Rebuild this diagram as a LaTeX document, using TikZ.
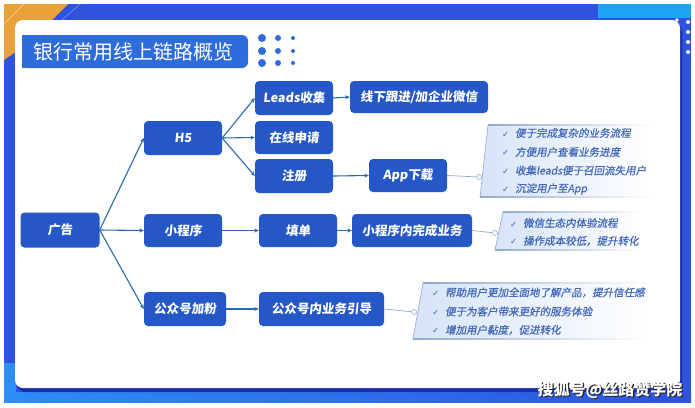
\documentclass[tikz,border=0pt]{standalone}
\usepackage{fontspec}
\setmainfont{Noto Sans CJK SC}
\newfontfamily\nodefont{Noto Sans CJK SC}[FakeSlant=0.1]
\newfontfamily\calfont{Noto Sans CJK SC}[FakeSlant=0.18, FakeBold=0.6]
\newfontfamily\symfont{DejaVu Sans}
\usetikzlibrary{arrows.meta}
\definecolor{boxblue}{HTML}{2557C7}
\definecolor{titleblue}{HTML}{2E6CDC}
\definecolor{linec}{HTML}{2A6AAE}
\definecolor{frameblue}{HTML}{2F52DF}
\definecolor{framelight}{HTML}{2E8DF6}
\definecolor{cyanc}{HTML}{1DA4F2}
\definecolor{orangec}{HTML}{E9A23B}
\definecolor{caltext}{HTML}{4267B9}
\definecolor{calfill}{HTML}{D6E4F7}
\definecolor{calborder}{HTML}{93A9CC}
\begin{document}
\begin{tikzpicture}[x=1pt,y=-1pt,
  box/.style={fill=boxblue, rounded corners=4pt, text=white,
    font=\nodefont\bfseries\fontsize{12.5}{14}\selectfont,
    minimum height=33pt, inner sep=0pt},
  conn/.style={draw=linec, line width=1.1pt, -{Stealth[length=4.5pt,width=4pt]}},
  tip/.style={circle, draw=calborder, fill=white, line width=0.6pt, minimum size=5pt, inner sep=0pt},
  tipline/.style={draw=calborder, line width=0.7pt},
  calline/.style={anchor=west, text=caltext, inner sep=0pt,
    font=\calfont\fontsize{10.5}{12}\selectfont},
  dot/.style={fill=titleblue}
]
\useasboundingbox (0,0) rectangle (695,407);
% frame
\fill[white] (0,0) rectangle (695,407);
\fill[frameblue] (4,4) rectangle (691,402);
\fill[cyanc] (598,4) rectangle (691,18);
\shade[left color=framelight, right color=frameblue] (4,392) rectangle (691,402);
\fill[framelight] (4,363) rectangle (16,394);
\fill[orangec] (4,4) -- (68,4) -- (30,42) -- (4,60) -- cycle;
\draw[white, opacity=0.5, line width=0.4pt] (4,24) -- (24,4);
\draw[white, opacity=0.5, line width=0.4pt] (80,4) -- (62,20);
% card
\fill[black!60!blue, opacity=0.45, rounded corners=8pt] (17,24) rectangle (682,392);
\fill[white, rounded corners=8pt] (15,20) rectangle (680,388);
% right edge dots
\foreach \yy in {22,32,42,52} \fill[white] (688,\yy) circle (2pt);
\fill[white] (677,20) circle (1.8pt);
% title
\fill[titleblue, rounded corners=6pt] (22,35) -- (248,35) -- (248,68) -- (22,68) [sharp corners] -- (22,35) -- cycle;
\fill[titleblue] (22,35) rectangle (30,68);
\node[text=white, font=\fontsize{20}{22}\selectfont, inner sep=0pt] (title) at (133,51.5) {银行常用线上链路概览};
% dots
\foreach \yy in {38,51,63} {
  \fill[dot] (262,\yy) circle (4pt);
  \fill[dot] (278,\yy) circle (3pt);
  \fill[dot] (293,\yy) circle (2pt);
}
% nodes
\node[box, minimum width=79pt, minimum height=35pt] (ad) at (60,230) {广告};
\node[box, minimum width=78pt, minimum height=34pt] (h5) at (183,138) {H5};
\node[box, minimum width=78pt] (mini) at (183,230.5) {小程序};
\node[box, minimum width=82pt, minimum height=34pt] (gzh) at (185,309) {公众号加粉};
\node[box, minimum width=78pt, minimum height=34pt] (leads) at (294,98) {Leads收集};
\node[box, minimum width=78pt] (online) at (294,137.5) {在线申请};
\node[box, minimum width=78pt, minimum height=34pt] (reg) at (294,176) {注册};
\node[box, minimum width=78pt] (fill) at (298,230.5) {填单};
\node[box, minimum width=125pt, minimum height=34pt] (gzhin) at (321.5,309) {公众号内业务引导};
\node[box, minimum width=138pt, minimum height=32pt] (offline) at (419,97) {线下跟进/加企业微信};
\node[box, minimum width=78pt] (app) at (408,175.5) {App下载};
\node[box, minimum width=120pt] (miniin) at (412,230.5) {小程序内完成业务};
% connectors
\draw[conn] (ad.east) -- (h5.west);
\draw[conn] (ad.east) -- (mini.west);
\draw[conn] (ad.east) -- (gzh.west);
\draw[conn] (h5.east) -- (leads.west);
\draw[conn] (h5.east) -- (online.west);
\draw[conn] (h5.east) -- (reg.west);
\draw[conn] (leads.east) -- (offline.west);
\draw[conn] (reg.east) -- (app.west);
\draw[conn] (mini.east) -- (fill.west);
\draw[conn] (fill.east) -- (miniin.west);
\draw[conn] (gzh.east) -- (gzhin.west);
% callout 1
\shade[left color=calfill, right color=white] (488,125) -- (652,125) -- (652,197) -- (480,197) -- cycle;
\draw[calborder, line width=0.6pt] (488,125) -- (480,197);
\shade[left color=calborder, right color=white] (488,124.7) rectangle (652,125.3);
\shade[left color=calborder, right color=white] (480,196.7) rectangle (652,197.3);
\node[tip] (t1) at (479,177) {};
\draw[tipline] (app.east) -- (t1);
\node[calline] (c11) at (502,133) {\makebox[13pt][l]{\symfont\fontsize{8.5}{9}\selectfont ✓}便于完成复杂的业务流程};
\node[calline] (c12) at (502,152) {\makebox[13pt][l]{\symfont\fontsize{8.5}{9}\selectfont ✓}方便用户查看业务进度};
\node[calline] (c13) at (502,170.5) {\makebox[13pt][l]{\symfont\fontsize{8.5}{9}\selectfont ✓}收集leads便于召回流失用户};
\node[calline] (c14) at (502,189) {\makebox[13pt][l]{\symfont\fontsize{8.5}{9}\selectfont ✓}沉淀用户至App};
% callout 2
\shade[left color=calfill, right color=white] (503,212) -- (642,212) -- (642,250) -- (495,250) -- cycle;
\draw[calborder, line width=0.6pt] (503,212) -- (495,250);
\shade[left color=calborder, right color=white] (503,211.7) rectangle (642,212.3);
\shade[left color=calborder, right color=white] (495,249.7) rectangle (642,250.3);
\node[tip] (t2) at (495,233) {};
\draw[tipline] (miniin.east) -- (t2);
\node[calline] (c21) at (510,223) {\makebox[13pt][l]{\symfont\fontsize{8.5}{9}\selectfont ✓}微信生态内体验流程};
\node[calline] (c22) at (510,241) {\makebox[13pt][l]{\symfont\fontsize{8.5}{9}\selectfont ✓}操作成本较低，提升转化};
% callout 3
\shade[left color=calfill, right color=white] (423,283) -- (650,283) -- (650,339) -- (413,339) -- cycle;
\draw[calborder, line width=0.6pt] (423,283) -- (413,339);
\shade[left color=calborder, right color=white] (423,282.7) rectangle (650,283.3);
\shade[left color=calborder, right color=white] (413,338.7) rectangle (650,339.3);
\node[tip] (t3) at (414,312) {};
\draw[tipline] (gzhin.east) -- (t3);
\node[calline] (c31) at (432,292.5) {\makebox[13pt][l]{\symfont\fontsize{8.5}{9}\selectfont ✓}帮助用户更加全面地了解产品，提升信任感};
\node[calline] (c32) at (432,311.5) {\makebox[13pt][l]{\symfont\fontsize{8.5}{9}\selectfont ✓}便于为客户带来更好的服务体验};
\node[calline] (c33) at (432,330) {\makebox[13pt][l]{\symfont\fontsize{8.5}{9}\selectfont ✓}增加用户黏度，促进转化};
% watermark
\node[text=black!85, font=\bfseries\fontsize{16}{18}\selectfont, inner sep=0pt] (wms) at (611.2,391.2) {搜狐号@丝路赞学院};
\node[text=white, font=\bfseries\fontsize{16}{18}\selectfont, inner sep=0pt] (wm) at (610,390) {搜狐号@丝路赞学院};
\end{tikzpicture}
\end{document}
